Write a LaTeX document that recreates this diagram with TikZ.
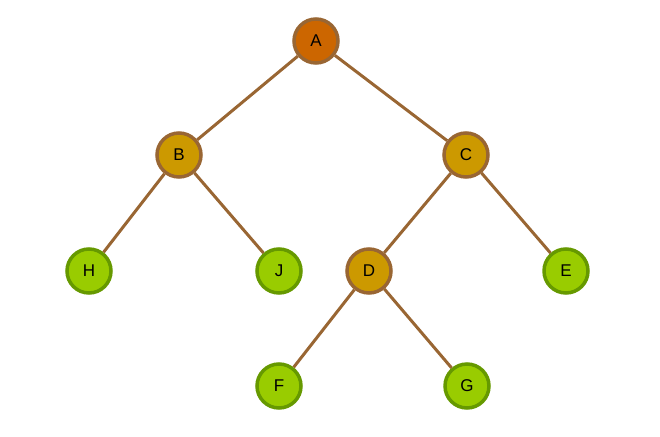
\documentclass[tikz,border=0pt]{standalone}
\usepackage{fontspec}
\setmainfont{Liberation Sans}
\definecolor{edgec}{HTML}{996633}
\definecolor{rootc}{HTML}{CC6600}
\definecolor{innerc}{HTML}{CC9900}
\definecolor{leafc}{HTML}{99CC00}
\definecolor{leafb}{HTML}{669900}
\begin{document}
\begin{tikzpicture}[x=1pt,y=-1pt,
  nd/.style={circle,minimum size=44pt,inner sep=0pt,line width=3.5pt,font=\fontsize{17}{20}\selectfont},
  rootn/.style={nd,fill=rootc,draw=edgec},
  innern/.style={nd,fill=innerc,draw=edgec},
  leafn/.style={nd,fill=leafc,draw=leafb},
  edge/.style={draw=edgec,line width=3pt}]
\useasboundingbox (0,0) rectangle (660,436);
\node[rootn] (A) at (316,41) {A};
\node[innern] (B) at (179,155) {B};
\node[innern] (C) at (466,155) {C};
\node[leafn] (H) at (89,271) {H};
\node[leafn] (J) at (279,271) {J};
\node[innern] (D) at (369,271) {D};
\node[leafn] (E) at (566,271) {E};
\node[leafn] (F) at (279,386) {F};
\node[leafn] (G) at (467,386) {G};
\begin{scope}[on background layer/.style={}]
\end{scope}
\path[edge] (A) -- (B);
\path[edge] (A) -- (C);
\path[edge] (B) -- (H);
\path[edge] (B) -- (J);
\path[edge] (C) -- (D);
\path[edge] (C) -- (E);
\path[edge] (D) -- (F);
\path[edge] (D) -- (G);
\end{tikzpicture}
\end{document}
